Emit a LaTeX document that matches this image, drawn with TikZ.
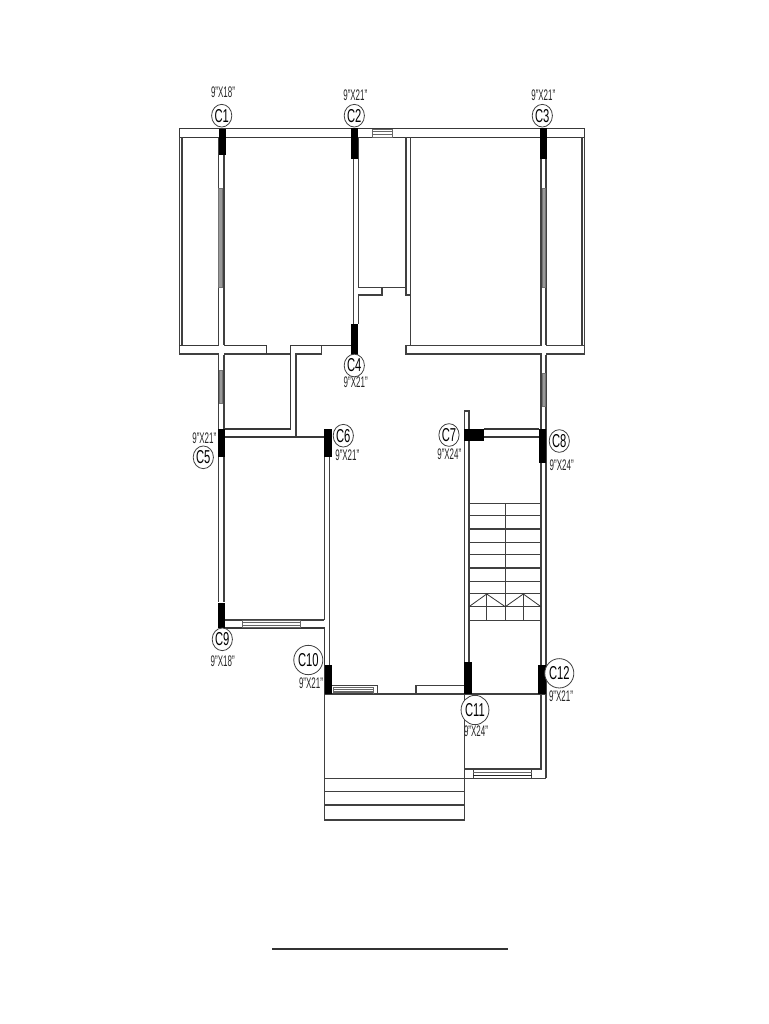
\documentclass[tikz,border=0pt]{standalone}
\usepackage{graphicx}
\usepackage{fontspec}
\setmainfont{Liberation Sans}
\usetikzlibrary{shapes.geometric}
\newcommand{\sizetxt}[1]{\scalebox{0.52}[1]{\fontsize{11.5}{12}\selectfont #1}}
\newcommand{\tagtxt}[1]{\scalebox{0.6}[1]{\fontsize{14}{15}\selectfont #1}}
\tikzset{
  wall/.style={line width=0.95pt,draw=black!78},
  thin wall/.style={line width=0.85pt,draw=black!75},
  win/.style={line width=0.6pt,draw=black!60},
  glass/.style={fill=black!40,draw=black!55,line width=0.4pt},
  col/.style={fill=black,draw=none},
  tagc/.style={ellipse,draw=black!75,line width=0.6pt,fill=white,inner sep=0pt,minimum width=15pt,minimum height=17pt},
  tagw/.style={tagc,minimum width=17.5pt,minimum height=22pt},
  size/.style={inner sep=0pt,text=black!85},
}
\begin{document}
\begin{tikzpicture}[x=0.75pt,y=-0.75pt]
\useasboundingbox (0,0) rectangle (768,1024);
% top and horizontal bands
\draw[wall] (179.3,128.7) rectangle (584.3,137.3);
\draw[thin wall] (182,137.3) -- (182,345.7);
\draw[thin wall] (179.3,137.3) -- (179.3,354) -- (290.7,354);
\draw[wall] (179.3,345.7) -- (266.7,345.7) -- (266.7,354);
\draw[thin wall] (584.3,137.3) -- (584.3,354) -- (406,354) -- (406,345.7) -- (584.3,345.7);
\draw[thin wall] (582,137.3) -- (582,345.7);
% walls C1 line
\draw[thin wall] (218.7,137) -- (218.7,345.7) (224,137) -- (224,345.7);
\draw[thin wall] (218.7,354) -- (218.7,602) (224,354) -- (224,429) (224,457) -- (224,602);
\fill[white] (219.2,345) rectangle (223.5,354.6);
\draw[glass] (218.7,188.3) rectangle (222.4,287);
\draw[glass] (219,370) rectangle (222.7,403);
% C2 line
\draw[thin wall] (353.3,137) -- (353.3,324) (358.3,137) -- (358.3,287.3);
\draw[thin wall] (358.3,295) -- (358.3,324);
\draw[thin wall] (358.3,287.3) -- (406,287.3) (358.3,295) -- (382,295) -- (382,287.3);
\draw[thin wall] (406,137.3) -- (406,295) -- (410.7,295) (410.7,137.3) -- (410.7,345.7);
% top window
\draw[win] (372.7,128.9) rectangle (392.3,137.2) (372.7,131.8) -- (392.3,131.8) (372.7,134.4) -- (392.3,134.4);
% C3 line
\draw[thin wall] (541,137) -- (541,345.7) (546,137) -- (546,345.7);
\draw[glass] (542,188.3) rectangle (545.7,287);
\draw[thin wall] (541,354) -- (541,429) (546,354) -- (546,694);
\draw[thin wall] (541,462) -- (541,665);
\draw[glass] (542,373.3) rectangle (545.7,406.7);
\fill[white] (541.5,345) rectangle (545.5,354.6);
% mid band and corridor
\draw[wall] (290.7,429) -- (290.7,345.7) -- (351,345.7);
\draw[thin wall] (296,437) -- (296,354) -- (321.7,354) -- (321.7,345.7);
\draw[wall] (225,429) -- (290.7,429);
\draw[wall] (225,437) -- (324.3,437);
% room below
\draw[thin wall] (324.3,457) -- (324.3,620) (329.5,457) -- (329.5,665);
\draw[thin wall] (225,620) -- (324.3,620);
\draw[wall] (225,628) -- (324.7,628) -- (324.7,694);
\draw[win] (242.3,620.5) rectangle (300.7,627.5) (242.3,622.5) -- (300.7,622.5) (242.3,625.5) -- (300.7,625.5);
% bottom porch
\draw[thin wall] (324.7,694) -- (546,694);
\draw[thin wall] (324.7,694) -- (324.7,820) -- (464.3,820) -- (464.3,694);
\draw[thin wall] (324.7,778.3) -- (464.3,778.3) (324.7,791.7) -- (464.3,791.7) (324.7,805) -- (464.3,805);
\draw[thin wall] (332,685.7) -- (377.7,685.7) -- (377.7,694);
\draw[win] (333.5,687.5) rectangle (373,692.5) (333.5,689.2) -- (373,689.2) (333.5,691) -- (373,691);
\draw[win] (373,687.5) -- (373,694);
\draw[thin wall] (416,694) -- (416,685.7) -- (464.3,685.7);
% lower right room
\draw[thin wall] (541,694) -- (541,769) -- (464.3,769);
\draw[thin wall] (546,694) -- (546,778.3) (464.3,778.3) -- (546,778.3);
\draw[thin wall] (473.3,769) -- (473.3,778.3) (531.7,769) -- (531.7,778.3);
\draw[line width=1.1pt,draw=black!85] (473.3,775.3) -- (531.7,775.3);
\draw[win] (473.3,772) -- (531.7,772);
% stair walls
\draw[thin wall] (464.3,662) -- (464.3,411) -- (469,411) -- (469,662);
\draw[wall] (484,429) -- (539,429) (484,437) -- (539,437);
% stair
\foreach \yy in {503.7,515.7,529,542.3,554.7,568,581.3,593.7,606.7,620.7}{
  \draw[thin wall] (469,\yy) -- (541,\yy);
}
\draw[thin wall,line width=0.55pt] (505.3,503.7) -- (505.3,620.7) (486.7,594) -- (486.7,620.7) (523.3,594) -- (523.3,620.7);
\draw[line width=0.6pt,black!80] (469,606.7) -- (486.7,594) -- (505.3,606.7) -- (523.3,594) -- (541,606.7);
% columns
\fill[col] (218.5,129) rectangle (225.5,155);
\fill[col] (351,128) rectangle (358.3,159);
\fill[col] (539.5,128) rectangle (546.5,159);
\fill[col] (351,324) rectangle (358.3,356);
\fill[col] (218.3,429) rectangle (225.3,457.3);
\fill[col] (324.3,429) rectangle (331.5,457.3);
\fill[col] (218.3,602.7) rectangle (225.3,628);
\fill[col] (324.7,665) rectangle (332.3,694);
\fill[col] (464.3,429) rectangle (484,441);
\fill[col] (538.7,429) rectangle (546,462.7);
\fill[col] (464.3,661.7) rectangle (471.7,694);
\fill[col] (538.3,665) rectangle (546,694);
% bottom line
\coordinate (ruleL) at (272,949);
\coordinate (ruleR) at (508,949);
\draw[line width=1pt,black!80] (ruleL) -- (ruleR);
% tags
\node[tagc] (c1) at (221.7,115.7) {\tagtxt{C1}};
\node[tagc] (c2) at (354.3,115.7) {\tagtxt{C2}};
\node[tagc] (c3) at (542.3,115.7) {\tagtxt{C3}};
\node[tagc] (c4) at (354.3,365.5) {\tagtxt{C4}};
\node[tagc] (c5) at (203.3,457.3) {\tagtxt{C5}};
\node[tagc] (c6) at (343.3,435.7) {\tagtxt{C6}};
\node[tagc] (c7) at (449,435) {\tagtxt{C7}};
\node[tagc] (c8) at (559.3,441) {\tagtxt{C8}};
\node[tagc] (c9) at (222.3,639.3) {\tagtxt{C9}};
\node[tagw] (c10) at (308.3,660) {\tagtxt{C10}};
\node[tagw] (c11) at (475,710) {\tagtxt{C11}};
\node[tagw] (c12) at (559.3,673.3) {\tagtxt{C12}};
% sizes
\node[size] (s1) at (223,92) {\sizetxt{9"X18"}};
\node[size] (s2) at (355.3,95.7) {\sizetxt{9"X21"}};
\node[size] (s3) at (543.3,95.7) {\sizetxt{9"X21"}};
\node[size] (s4) at (355.7,382.7) {\sizetxt{9"X21"}};
\node[size] (s5) at (204.3,438.3) {\sizetxt{9"X21"}};
\node[size] (s6) at (347.3,455) {\sizetxt{9"X21"}};
\node[size] (s7) at (449.3,454.3) {\sizetxt{9"X24"}};
\node[size] (s8) at (561.7,465) {\sizetxt{9"X24"}};
\node[size] (s9) at (222.7,661.7) {\sizetxt{9"X18"}};
\node[size] (s10) at (311,683.3) {\sizetxt{9"X21"}};
\node[size] (s11) at (476,731.7) {\sizetxt{9"X24"}};
\node[size] (s12) at (561,696.7) {\sizetxt{9"X21"}};
\end{tikzpicture}
\end{document}
